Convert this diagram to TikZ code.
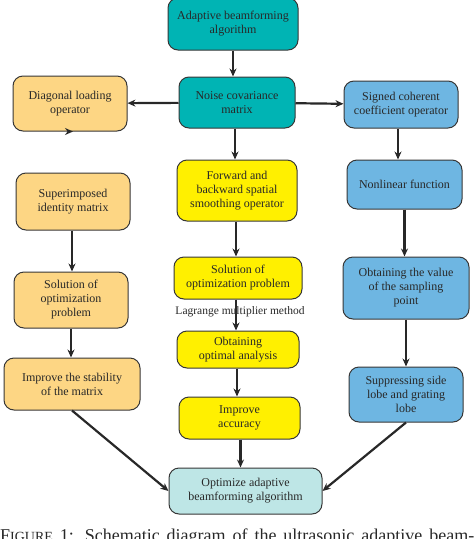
\documentclass[tikz,border=0pt]{standalone}
\usepackage{fontspec}
\setmainfont{Liberation Serif}
\usetikzlibrary{arrows.meta}
\definecolor{tealbox}{RGB}{0,180,180}
\definecolor{orangebox}{RGB}{253,214,132}
\definecolor{yellowbox}{RGB}{255,240,0}
\definecolor{bluebox}{RGB}{110,182,226}
\definecolor{cyanbox}{RGB}{190,230,230}
\definecolor{edge}{RGB}{55,55,55}
\definecolor{ink}{RGB}{40,40,40}
\begin{document}
\begin{tikzpicture}
[
x=1pt, y=-1pt,
>={Stealth[length=8pt,width=7pt]},
box/.style = {draw=edge, line width=1pt, rounded corners=10pt, align=center, inner sep=2pt,
  text=ink, font=\fontsize{12}{14}\selectfont},
teal/.style = {box, fill=tealbox},
orange/.style = {box, fill=orangebox},
yellow/.style = {box, fill=yellowbox},
blue/.style = {box, fill=bluebox},
final/.style = {box, fill=cyanbox},
flow/.style = {->, line width=2.2pt, draw=ink},
]
\useasboundingbox (0,0) rectangle (474,539);

% middle column
\node (adapt) at (233,24) [teal, minimum width=130pt, minimum height=52pt] {Adaptive beamforming\\algorithm};
\node (noise) at (237,102.5) [teal, minimum width=116pt, minimum height=51pt] {Noise covariance\\matrix};
\node (fwd) at (237,190.5) [yellow, minimum width=120pt, minimum height=61pt] {Forward and\\backward spatial\\smoothing operator};
\node (solm) at (238,278) [yellow, minimum width=128pt, minimum height=42pt] {Solution of\\optimization problem};
\node (optan) at (238,349.5) [yellow, minimum width=122pt, minimum height=37pt] {Obtaining\\optimal analysis};
\node (accur) at (239.5,418) [yellow, minimum width=121pt, minimum height=42pt] {Improve\\accuracy};
\node (optim) at (245.5,491) [final, minimum width=153pt, minimum height=46pt] {Optimize adaptive\\beamforming algorithm};

% left column
\node (diag) at (70,103.5) [orange, minimum width=114pt, minimum height=55pt] {Diagonal loading\\operator};
\node (ident) at (73,201.5) [orange, minimum width=114pt, minimum height=57pt] {Superimposed\\identity matrix};
\node (soll) at (71,300) [orange, minimum width=114pt, minimum height=56pt] {Solution of\\optimization\\problem};
\node (stab) at (72,384) [orange, minimum width=136pt, minimum height=52pt] {Improve the stability\\of the matrix};

% right column
\node (scf) at (401,104.5) [blue, minimum width=114pt, minimum height=47pt] {Signed coherent\\coefficient operator};
\node (nonlin) at (404.5,184.5) [blue, minimum width=115pt, minimum height=49pt] {Nonlinear function};
\node (value) at (406,288) [blue, minimum width=126pt, minimum height=62pt] {Obtaining the value\\of the sampling\\point};
\node (suppr) at (406,394.5) [blue, minimum width=114pt, minimum height=55pt] {Suppressing side\\lobe and grating\\lobe};

\draw[flow] (adapt.south) -- (adapt.south |- noise.north);
\draw[flow] (noise) -- (diag);
\draw[flow] (noise) -- (scf);
\draw[flow] ([xshift=-2pt]noise.south) -- ([xshift=-2pt]noise.south |- fwd.north);
\draw[flow] (diag.south) -- (diag.south -| ident.north);
\draw[flow] ([xshift=-1pt]ident.south) -- ([xshift=-1pt]ident.south |- soll.north);
\draw[flow] (soll.south) -- (soll.south |- stab.north);
\draw[flow] (stab.south) -- (optim.west);
\draw[flow] ([xshift=-1pt]fwd.south) -- ([xshift=-1pt]fwd.south |- solm.north);
\draw[flow] ([xshift=-2pt]solm.south) -- ([xshift=-2pt]solm.south |- optan.north);
\node (lagr) at (240,312) [text=ink, font=\fontsize{11.5}{13}\selectfont] {Lagrange multiplier method};
\draw[flow] ([xshift=-1pt]optan.south) -- ([xshift=-1pt]optan.south |- accur.north);
\draw[flow] ([xshift=1pt]accur.south) -- ([xshift=1pt]accur.south |- optim.north);
\draw[flow] ([xshift=-3pt]scf.south) -- ([xshift=-3pt]scf.south |- nonlin.north);
\draw[flow] (nonlin.south) -- (nonlin.south |- value.north);
\draw[flow] (value.south) -- (value.south |- suppr.north);
\draw[flow] (suppr.south) -- (optim.east);

% caption, cut by the page edge
\node (cap) at (0,541) [anchor=base west, inner sep=0pt, text=ink, font=\fontsize{18}{20}\selectfont]
  {\makebox[474pt][s]{F{\fontsize{14}{16}\selectfont IGURE} 1: Schematic diagram of the ultrasonic adaptive beam-}};
\end{tikzpicture}
\end{document}
